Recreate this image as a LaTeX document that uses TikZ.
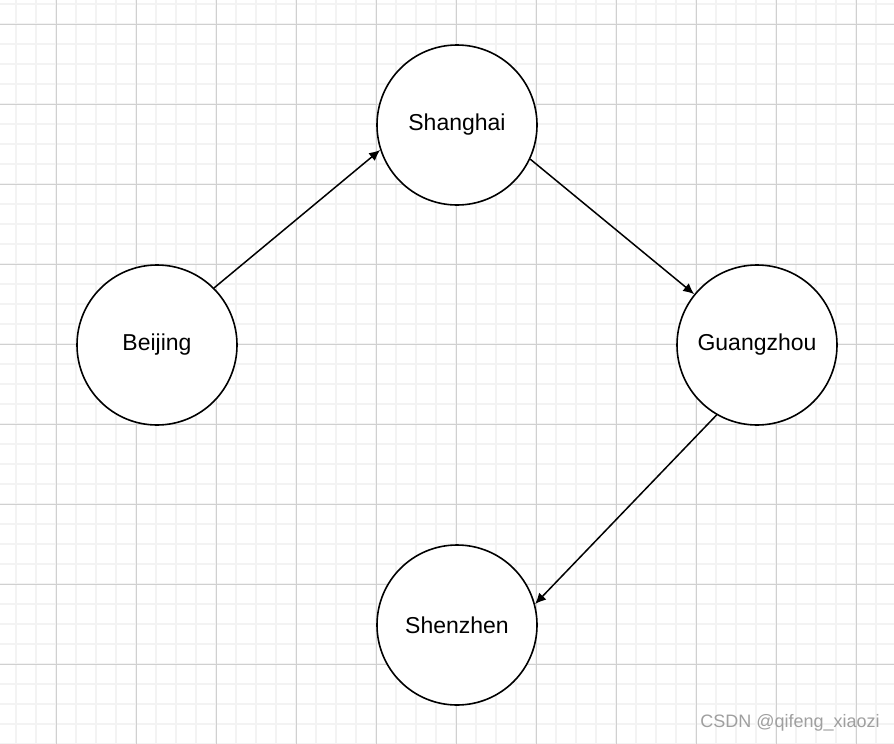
\documentclass[tikz,border=0pt]{standalone}
\usepackage{fontspec}
\setmainfont{Liberation Sans}
\definecolor{minorg}{HTML}{F3F3F3}
\definecolor{majorg}{HTML}{D0D0D0}
\usetikzlibrary{arrows.meta}
\begin{document}
\begin{tikzpicture}[x=1pt,y=-1pt,
  city/.style={circle,draw,line width=1.6pt,minimum size=160pt,inner sep=0pt,font=\fontsize{23}{26}\selectfont},
  link/.style={-{Latex[length=11pt,width=10pt]},line width=1.5pt}]
\useasboundingbox (0,0) rectangle (894,744);
\fill[white] (0,0) rectangle (894,744);
\foreach \i in {0,...,44} {\draw[minorg,line width=1.5pt] (16+20*\i,0) -- (16+20*\i,744);}
\foreach \i in {0,...,37} {\draw[minorg,line width=1.5pt] (0,4+20*\i) -- (894,4+20*\i);}
\foreach \i in {0,...,10} {\draw[majorg,line width=1pt] (56+80*\i,0) -- (56+80*\i,744);}
\foreach \i in {0,...,9} {\draw[majorg,line width=1pt] (0,24+80*\i) -- (894,24+80*\i);}
\node[city,fill=white] (bj) at (157,345) {Beijing};
\node[city,fill=white] (sh) at (457,125) {Shanghai};
\node[city,fill=white] (gz) at (757,345) {Guangzhou};
\node[city,fill=white] (sz) at (457,625) {Shenzhen};
\draw[link] (bj.45) -- (sh.198);
\draw[link] (sh.-25) -- (gz.141);
\draw[link] (gz.-120) -- (sz.15);
\node[text=gray!75,font=\fontsize{18}{20}\selectfont] (wm) at (790,723) {CSDN @qifeng\_xiaozi};
\end{tikzpicture}
\end{document}
